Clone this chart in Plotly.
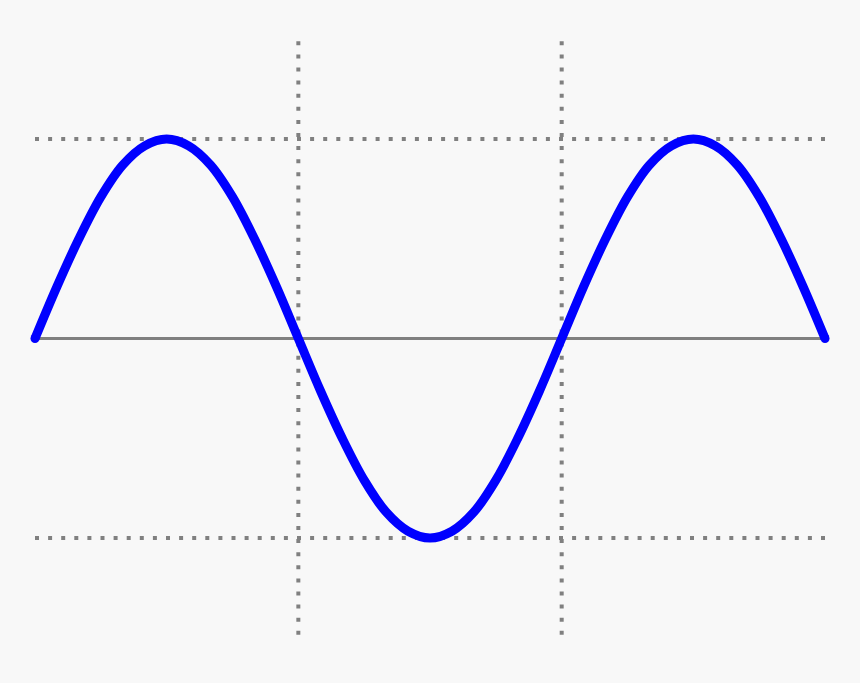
import plotly.graph_objects as go

# wave, x in degrees, y as fraction of amplitude
angle = [0, 15, 30, 45, 60, 75, 90, 105, 120, 135, 150, 165, 180,
         195, 210, 225, 240, 255, 270, 285, 300, 315, 330, 345, 360,
         375, 390, 405, 420, 435, 450, 465, 480, 495, 510, 525, 540]
level = [0, 0.26, 0.5, 0.71, 0.87, 0.966, 1, 0.966, 0.87, 0.71, 0.5, 0.26, 0,
         -0.26, -0.5, -0.71, -0.87, -0.966, -1, -0.966, -0.87, -0.71, -0.5, -0.26, 0,
         0.26, 0.5, 0.71, 0.87, 0.966, 1, 0.966, 0.87, 0.71, 0.5, 0.26, 0]

# guide lines
peak_levels = [1, -1]
zero_crossings = [180, 360]
guide_top = 1.49
guide_bottom = -1.495
guide_right = 541

grey = '#808080'
dots = '4px,9.1px'
fig = go.Figure()

# zero axis
fig.add_trace(go.Scatter(x=[angle[0], angle[-1]], y=[0, 0], mode='lines',
                         line=dict(color=grey, width=3), hoverinfo='skip'))

# dotted horizontals at peak and trough
for lv in peak_levels:
    fig.add_trace(go.Scatter(x=[angle[0], guide_right], y=[lv, lv], mode='lines',
                             line=dict(color=grey, width=4, dash=dots),
                             hoverinfo='skip'))

# dotted verticals at the crossings
for zc in zero_crossings:
    fig.add_trace(go.Scatter(x=[zc, zc], y=[guide_top, guide_bottom], mode='lines',
                             line=dict(color=grey, width=4, dash=dots),
                             hoverinfo='skip'))

fig.add_trace(go.Scatter(x=angle, y=level, mode='lines',
                         line=dict(color='#0000ff', width=9, shape='spline', smoothing=1),
                         hoverinfo='skip'))
# round ends
fig.add_trace(go.Scatter(x=[angle[0], angle[-1]], y=[level[0], level[-1]], mode='markers',
                         marker=dict(color='#0000ff', size=9), hoverinfo='skip'))

fig.update_layout(
    width=860, height=683,
    margin=dict(l=0, r=0, t=0, b=0),
    paper_bgcolor='#f8f8f8',
    plot_bgcolor='#f8f8f8',
    showlegend=False,
    xaxis=dict(range=[-23.92, 563.9], visible=False, fixedrange=True),
    yaxis=dict(range=[-1.727, 1.697], visible=False, fixedrange=True),
)
fig.write_html('out.html', config={'displayModeBar': False},
               post_script="document.body.style.margin='0';document.body.style.background='#f8f8f8';")
